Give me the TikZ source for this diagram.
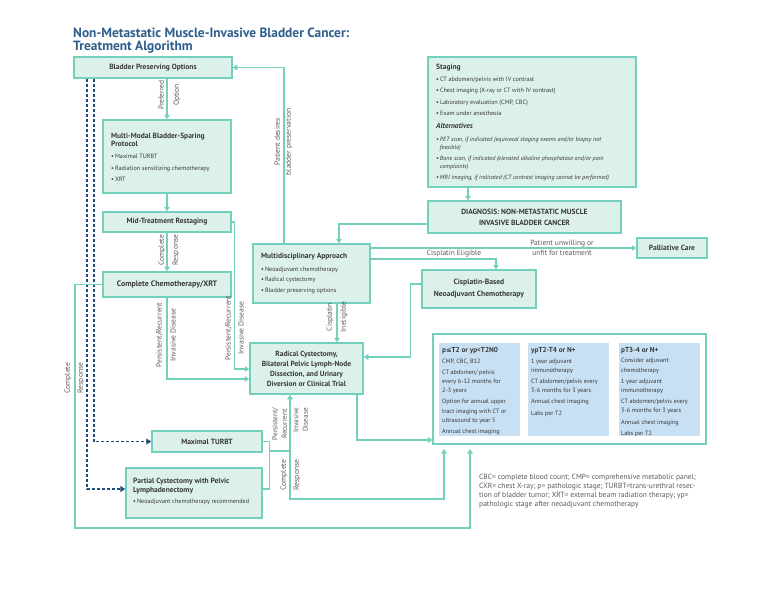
\documentclass[tikz,border=0pt]{standalone}
\usepackage{fontspec}
\setmainfont{PT Sans}
\newfontfamily\symfont{DejaVu Sans}
\usetikzlibrary{arrows.meta,calc}
\definecolor{teal1}{HTML}{72D0BC}
\definecolor{mint}{HTML}{DDF1EB}
\definecolor{navy}{HTML}{1F4E7A}
\definecolor{ttl}{HTML}{2E5E8C}
\definecolor{txt}{HTML}{383838}
\definecolor{lbl}{HTML}{5A5A5A}
\definecolor{blu}{HTML}{C7E0F4}
\newcommand{\hdf}{\bfseries\fontsize{7.5}{9}\selectfont}
\newcommand{\bhf}{\bfseries\fontsize{7.2}{9}\selectfont}
\newcommand{\itf}{\mdseries\itshape\fontsize{6.1}{8}\selectfont}
\begin{document}
\begin{tikzpicture}[x=1pt,y=-1pt,
  box/.style={draw=teal1, fill=mint, line width=1.5pt, inner sep=0pt, text=txt, align=center, font=\hdf},
  conn/.style={draw=teal1, line width=1.1pt},
  arr/.style={conn, -{Triangle[width=5.5pt,length=4.5pt]}},
  dsh/.style={draw=navy, line width=1.1pt, dash pattern=on 3pt off 2pt, -{Triangle[width=6pt,length=5pt]}},
  lab/.style={text=lbl, inner sep=0pt, align=center},
  vlab/.style={lab, rotate=90},
  txtn/.style={anchor=north west, inner sep=0pt, align=left, text=txt},
  bluebox/.style={fill=blu, inner sep=0pt, minimum width=81pt, minimum height=93pt},
]
\useasboundingbox (0,0) rectangle (768,594);
\fill[white] (0,0) rectangle (768,594);

% title
\node[anchor=north west, inner sep=0pt, align=left, text=ttl,
  font=\bfseries\fontsize{13.4}{12.5}\selectfont] (title) at (73,28)
  {Non-Metastatic Muscle-Invasive Bladder Cancer:\\Treatment Algorithm};

% boxes
\node[box, minimum width=158pt, minimum height=21pt] (bpo) at (153,67.5) {Bladder Preserving Options};
\node[box, minimum width=128pt, minimum height=73pt] (mm) at (167,156.5) {};
\node[txtn, font=\fontsize{6.2}{11.5}\selectfont] (mmt) at (111,132.5) {{\hdf Multi-Modal Bladder-Sparing}\\[-3pt]{\hdf Protocol}\\[0.5pt]•\,Maximal TURBT\\•\,Radiation sensitizing chemotherapy\\•\,XRT};
\node[box, minimum width=128pt, minimum height=20pt] (mid) at (167,222) {Mid-Treatment Restaging};
\node[box, minimum width=128pt, minimum height=25pt, font=\bfseries\fontsize{7.9}{9}\selectfont] (cc) at (167,284.5) {Complete Chemotherapy/XRT};
\node[box, minimum width=117pt, minimum height=59pt] (mda) at (311.5,273.5) {};
\node[txtn, font=\fontsize{6.2}{10.5}\selectfont] (mdat) at (261,252.5) {{\hdf Multidisciplinary Approach}\\[2.5pt]•\,Neoadjuvant chemotherapy\\•\,Radical cystectomy\\•\,Bladder preserving options};
\node[box, minimum width=114pt, minimum height=38pt, font=\bfseries\fontsize{7.6}{12}\selectfont] (cis) at (479,289) {Cisplatin-Based\\Neoadjuvant Chemotherapy};
\node[box, minimum width=193pt, minimum height=32pt, font=\bfseries\fontsize{7.5}{11}\selectfont] (diag) at (524.5,217) {DIAGNOSIS: NON-METASTATIC MUSCLE\\INVASIVE BLADDER CANCER};
\node[box, minimum width=208pt, minimum height=130pt] (stag) at (532,122) {};
\node[txtn, font=\fontsize{6.2}{11.5}\selectfont] (stagt) at (436,63.5) {{\hdf Staging}\\[0.5pt]•\,CT abdomen/pelvis with IV contrast\\•\,Chest imaging (X-ray or CT with IV contrast)\\•\,Laboratory evaluation (CMP, CBC)\\•\,Exam under anesthesia\\[1.5pt]{\hdf\itshape Alternatives}\\[1.5pt]{\itf •\,PET scan, if indicated (equivocal staging exams and/or biopsy not}\\[-3.5pt]{\itf\hphantom{•\,}feasible)}\\[-0.5pt]{\itf •\,Bone scan, if indicated (elevated alkaline phosphatase and/or pain}\\[-3.5pt]{\itf\hphantom{•\,}complaints)}\\[-0.5pt]{\itf •\,MRI imaging, if indicated (CT contrast imaging cannot be performed)}};
\node[box, minimum width=70pt, minimum height=20pt] (pal) at (672,248) {Palliative Care};
\node[box, minimum width=113pt, minimum height=51pt, font=\bfseries\fontsize{7.4}{10}\selectfont] (rc) at (306.5,368.5) {Radical Cystectomy,\\Bilateral Pelvic Lymph-Node\\Dissection, and Urinary\\Diversion or Clinical Trial};
\node[box, minimum width=110pt, minimum height=21pt] (turbt) at (207,441.5) {Maximal TURBT};
\node[box, minimum width=136pt, minimum height=50pt] (pc) at (194,493) {};
\node[txtn, font=\fontsize{6.2}{11}\selectfont] (pct) at (133,477.5) {{\hdf Partial Cystectomy with Pelvic}\\[-2pt]{\hdf Lymphadenectomy}\\•\,Neoadjuvant chemotherapy recommended};

% follow-up
\node[draw=teal1, fill=white, line width=1.1pt, minimum width=273pt, minimum height=110pt, inner sep=0pt] (fu) at (569.5,389) {};
\node[bluebox] (b1) at (479.5,389.5) {};
\node[bluebox] (b2) at (568.5,389.5) {};
\node[bluebox] (b3) at (659,389.5) {};
\begin{scope}[every node/.append style={font=\fontsize{6.2}{9.2}\selectfont}]
\node[txtn] (b1t) at (442,347.5) {{\bhf p{\symfont\fontsize{6.6}{8}\selectfont ≤}T2 or yp<T2N0}\\[1pt]CMP, CBC, B12\\[2pt]CT abdomen/ pelvis\\every 6-12 months for\\2-3 years\\[2pt]Option for annual upper\\tract imaging with CT or\\ultrasound to year 5\\[2pt]Annual chest imaging};
\node[txtn] (b2t) at (531,347.5) {{\bhf ypT2-T4 or N+}\\[1pt]1 year adjuvant\\immunotherapy\\[2pt]CT abdomen/pelvis every\\3-6 months for 3 years\\[2pt]Annual chest imaging\\[2pt]Labs per T2};
\node[txtn] (b3t) at (621,347.5) {{\bhf pT3-4 or N+}\\[1pt]Consider adjuvant\\chemotherapy\\[2pt]1 year adjuvant\\immunotherapy\\[2pt]CT abdomen/pelvis every\\3-6 months for 3 years\\[2pt]Annual chest imaging\\[2pt]Labs per T2};
\end{scope}

% footnote
\node[anchor=north west, inner sep=0pt, align=left, text=lbl, font=\fontsize{7.5}{9}\selectfont] (fn) at (479,474) {CBC= complete blood count; CMP= comprehensive metabolic panel;\\CXR= chest X-ray; p= pathologic stage; TURBT=trans-urethral resec-\\tion of bladder tumor; XRT= external beam radiation therapy; yp=\\pathologic stage after neoadjuvant chemotherapy};

% connectors
\draw[arr] (bpo.south -| mm.north) -- (mm.north);
\draw[arr] (mm.south) -- (mid.north);
\draw[arr] (mid.south) -- (cc.north);
\draw[arr] (cc.south) |- (rc.west |- 0,379);
\draw[arr] (mid.east) -- ++(3,0) |- (rc.west |- 0,369);
\draw[arr] (mda.north -| 284,0) |- (bpo.east);
\draw[arr] (diag.west |- 0,224) -| (mda.north -| 339,0);
\draw[arr] (mda.east |- 0,259) -| (cis.north -| 496,0);
\draw[arr] (mda.east |- 0,248) -- (pal.west);
\draw[arr] (mda.south -| 337,0) -- (rc.north -| 337,0);
\draw[arr] (cis.west |- 0,284) -- ++(-11,0) |- (rc.east |- 0,357);
\draw[arr] (stag.south -| 468,0) -- (diag.north -| 468,0);
\draw[dsh] (bpo.south -| 94,0) |- (turbt.west);
\draw[dsh] (bpo.south -| 87,0) |- (pc.west |- 0,489);
\draw[conn] (turbt.east) -- ++(7,0) |- (pc.east |- 0,489);
\coordinate (j1) at (269,451);
\coordinate (j2) at (290,451);
\coordinate (t1) at (444,449);
\coordinate (t2) at (470,449);
\draw[conn] (j1) -- (j2);
\draw[arr] (j2) -- (rc.south -| j2);
\draw[arr] (j2) -- (290,499) -| (t1);
\draw[arr] (cc.west) -| (75,528) -| (t2);
\draw[arr] (rc.south -| 357,0) |- (fu.west |- 0,440);

% labels
\node[vlab, font=\fontsize{7.5}{15}\selectfont] (l1) at (169.5,95) {Preferred\\Option};
\node[vlab, font=\fontsize{7.5}{14}\selectfont] (l2) at (169,250) {Complete\\Response};
\node[vlab, font=\fontsize{7.5}{14}\selectfont] (l3) at (166,335) {Persistent/Recurrent\\Invasive Disease};
\node[vlab, font=\fontsize{7.5}{13}\selectfont] (l4) at (234.5,328) {Persistent/Recurrent\\Invasive Disease};
\node[vlab, font=\fontsize{7.5}{11}\selectfont] (l5) at (283.5,142) {Patient desires\\bladder preservation};
\node[vlab, font=\fontsize{7.5}{14}\selectfont] (l6) at (337,317) {Cisplatin\\Ineligible};
\node[vlab, font=\fontsize{7.2}{9.5}\selectfont] (l7) at (279.5,424) {Persistent/\\Recurrent};
\node[vlab, font=\fontsize{7.2}{9.5}\selectfont] (l8) at (300.5,420) {Invasive\\Disease};
\node[vlab, font=\fontsize{7.5}{13}\selectfont] (l9) at (290.5,475) {Complete\\Response};
\node[vlab, font=\fontsize{7.5}{13}\selectfont] (l10) at (74.5,378) {Complete\\Response};
\node[lab, font=\fontsize{7.5}{10}\selectfont] (l11) at (454,253.5) {Cisplatin Eligible};
\node[lab, font=\fontsize{7.5}{10}\selectfont] (l12) at (562,248) {Patient unwilling or\\unfit for treatment};
\end{tikzpicture}
\end{document}
